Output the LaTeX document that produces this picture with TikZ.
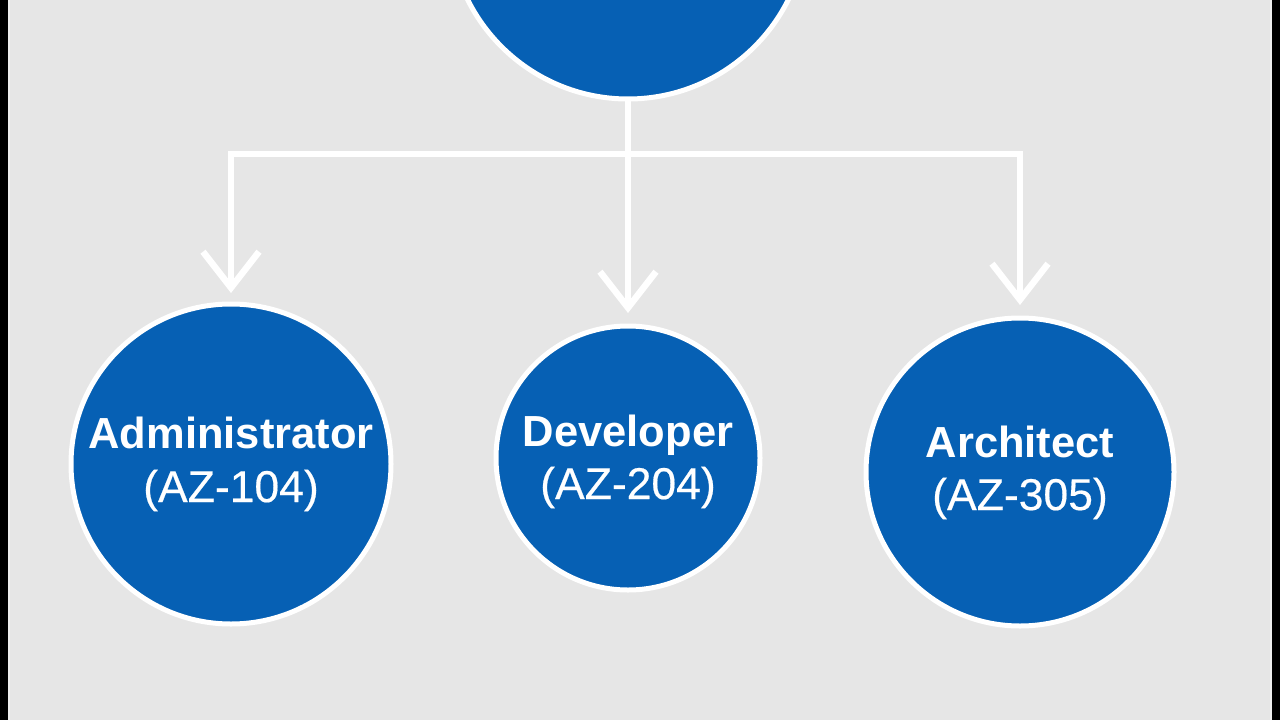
\documentclass[tikz,border=0pt]{standalone}
\usepackage{fontspec}
\setmainfont{Liberation Sans}
\newfontfamily\roleplain[FakeBold=0.4]{Liberation Sans}
\usetikzlibrary{arrows.meta}
\definecolor{panel}{HTML}{E6E6E6}
\definecolor{paneledge}{HTML}{F0F0F0}
\definecolor{azblue}{HTML}{0660B4}
\newcommand{\twolines}[4]{%
  \makebox[0pt]{\raisebox{#1pt}[0pt][0pt]{\fontsize{43.5}{43.5}\selectfont\bfseries #2}}%
  \makebox[0pt]{\raisebox{#3pt}[0pt][0pt]{\fontsize{44.5}{44.5}\selectfont\roleplain #4}}}
\tikzset{
  rolecircle/.style={circle,draw=white,line width=5pt,fill=azblue,text=white,inner sep=0pt,outer sep=0pt,minimum size=#1},
  conn/.style={draw=white,line width=6.5pt,line join=miter},
  tipped/.style={-{Straight Barb[length=36pt,width=56pt]},shorten >=#1}
}
\begin{document}
\begin{tikzpicture}[x=1pt,y=-1pt]
\useasboundingbox (0,0) rectangle (1280,720);
\clip (0,0) rectangle (1280,720);
\fill[black] (0,0) rectangle (1280,720);
\fill[paneledge] (8,0) rectangle (1272,720);
\fill[panel] (10,0) rectangle (1270,720);
\node[rolecircle=358pt] (hub) at (628,-80) {};
\node[rolecircle=320pt] (adm) at (231,464) {\twolines{16}{Administrator}{-38}{(AZ-104)}};
\node[rolecircle=264pt] (dev) at (628,458) {\twolines{12}{Developer}{-41}{(AZ-204)}};
\node[rolecircle=308pt] (arc) at (1020,472) {\twolines{15}{Architect}{-38}{(AZ-305)}};
\coordinate (bus) at (628,154);
\draw[conn,tipped=11pt] (hub.south) -- (bus) -| (adm.north);
\draw[conn,tipped=13pt] (hub.south) -- (dev.north);
\draw[conn,tipped=13pt] (bus) -| (arc.north);
\end{tikzpicture}
\end{document}
